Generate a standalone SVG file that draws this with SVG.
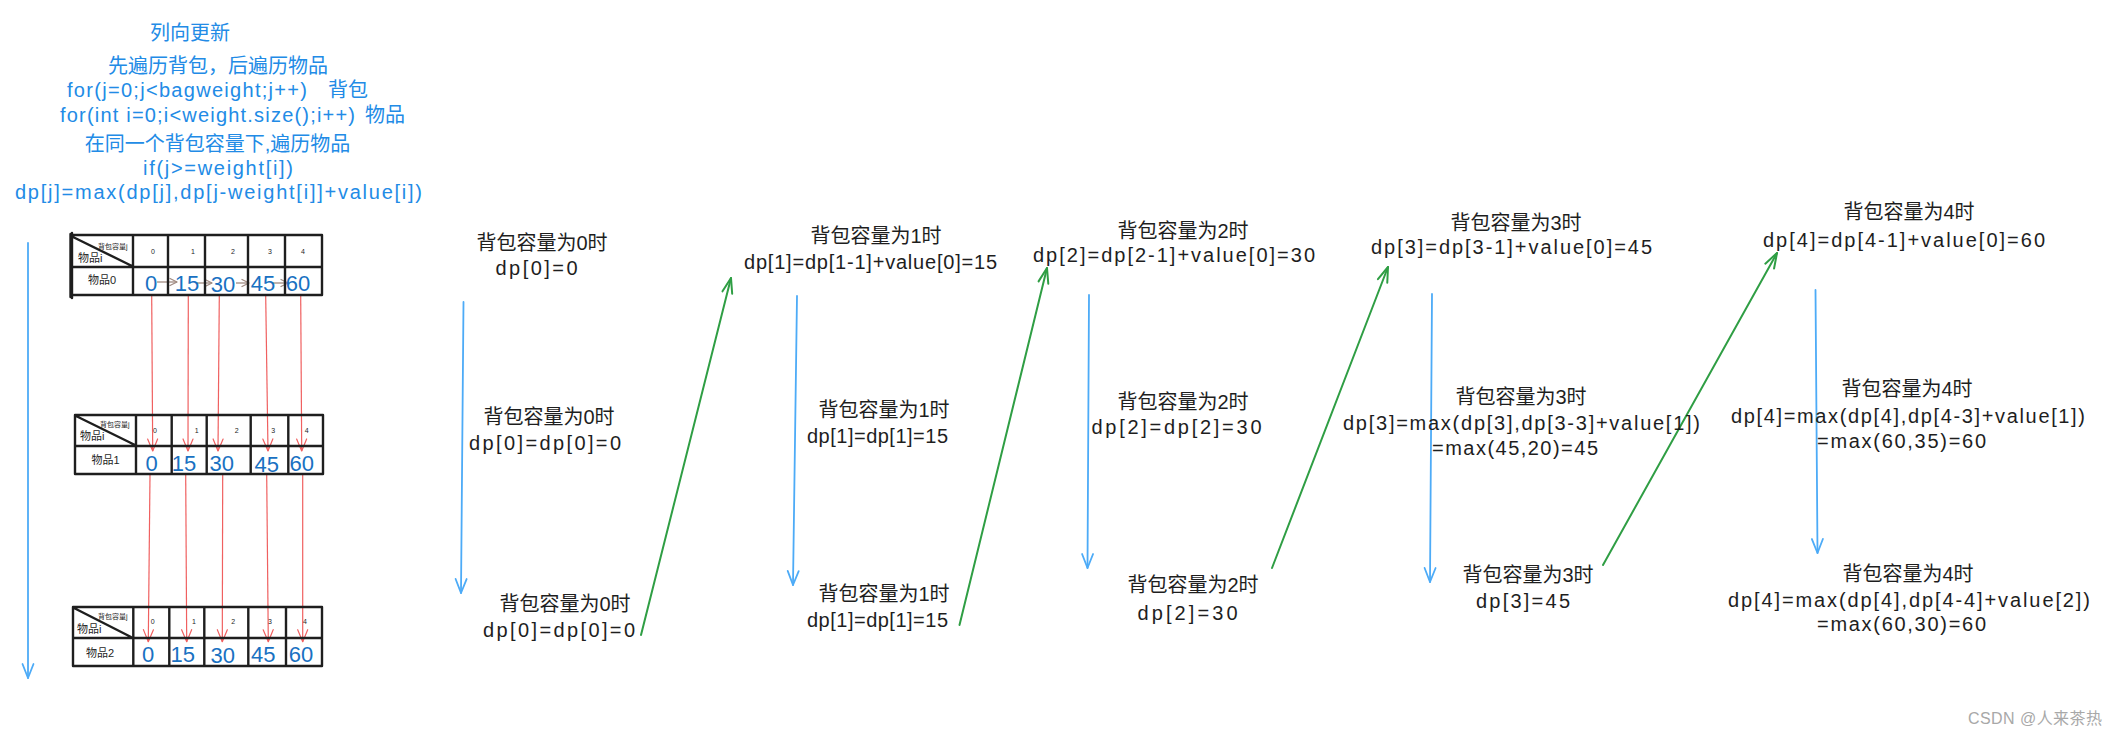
<svg xmlns="http://www.w3.org/2000/svg" width="2121" height="730" viewBox="0 0 2121 730">
<style>
.t{font-family:"Liberation Sans","Noto Sans CJK SC",sans-serif;font-size:20px;fill:#1e1e1e}
.m{text-anchor:middle}
.b{fill:#228be6}
.v{fill:#1971c2;font-size:22px;text-anchor:middle}
.s7{font-size:7px}
.s11{font-size:11px}
.tb{fill:none;stroke:#1e1e1e;stroke-width:2.4;stroke-linecap:round;stroke-linejoin:round}
.blue{fill:none;stroke:#4dabf7;stroke-width:1.8;stroke-linecap:round}
.green{fill:none;stroke:#2f9e44;stroke-width:2;stroke-linecap:round}
.red{fill:none;stroke:#f06060;stroke-width:1.2}
.brown{fill:none;stroke:#a08a80;stroke-width:1.3}
</style>
<defs>
<marker id="mb" markerUnits="userSpaceOnUse" markerWidth="20" markerHeight="16" viewBox="-16 -8 20 16" refX="0" refY="0" orient="auto" overflow="visible">
<path d="M-14,-5.5 L0,0 L-14,5.5" fill="none" stroke="#4dabf7" stroke-width="1.8" stroke-linecap="round" stroke-linejoin="round"/>
</marker>
<marker id="mg" markerUnits="userSpaceOnUse" markerWidth="20" markerHeight="16" viewBox="-16 -8 20 16" refX="0" refY="0" orient="auto" overflow="visible">
<path d="M-15,-5 L0,0 L-15,5" fill="none" stroke="#2f9e44" stroke-width="2" stroke-linecap="round" stroke-linejoin="round"/>
</marker>
<marker id="mr" markerUnits="userSpaceOnUse" markerWidth="20" markerHeight="16" viewBox="-16 -8 20 16" refX="0" refY="0" orient="auto" overflow="visible">
<path d="M-12,-5 L0,0 L-12,5" fill="none" stroke="#f06060" stroke-width="1.2" stroke-linecap="round" stroke-linejoin="round"/>
</marker>
<marker id="mn" markerUnits="userSpaceOnUse" markerWidth="12" markerHeight="10" viewBox="-8 -5 12 10" refX="0" refY="0" orient="auto" overflow="visible">
<path d="M-7,-3.5 L0,0 L-7,3.5" fill="none" stroke="#a08a80" stroke-width="1.3" stroke-linecap="round" stroke-linejoin="round"/>
</marker>
</defs>
<rect width="2121" height="730" fill="#ffffff"/>

<g id="connectors">
<path class="blue" d="M28,243 L28,678" marker-end="url(#mb)"/>
<path class="blue" d="M463.5,302 L461,593" marker-end="url(#mb)"/>
<path class="blue" d="M797,296 L793,585" marker-end="url(#mb)"/>
<path class="blue" d="M1089,295 L1087.5,568" marker-end="url(#mb)"/>
<path class="blue" d="M1432,294 L1430,582" marker-end="url(#mb)"/>
<path class="blue" d="M1815.5,290 L1817.5,553" marker-end="url(#mb)"/>
<path class="green" d="M641,635 L731,278" marker-end="url(#mg)"/>
<path class="green" d="M959.5,625 L1047,268" marker-end="url(#mg)"/>
<path class="green" d="M1272,568 L1388,267" marker-end="url(#mg)"/>
<path class="green" d="M1603,565 L1777,253" marker-end="url(#mg)"/>
<path class="red" d="M151.7,296 L152.7,451" marker-end="url(#mr)"/>
<path class="red" d="M188.3,296 L188,451" marker-end="url(#mr)"/>
<path class="red" d="M219.3,296 L218,451" marker-end="url(#mr)"/>
<path class="red" d="M265.7,296 L268,451" marker-end="url(#mr)"/>
<path class="red" d="M300.7,296 L301.7,451" marker-end="url(#mr)"/>
<path class="red" d="M150,475 L148.3,641.7" marker-end="url(#mr)"/>
<path class="red" d="M185.7,475 L186.7,641.7" marker-end="url(#mr)"/>
<path class="red" d="M222.7,475 L222.3,641.7" marker-end="url(#mr)"/>
<path class="red" d="M266.7,475 L268.3,641.7" marker-end="url(#mr)"/>
<path class="red" d="M302.7,475 L302.7,641.7" marker-end="url(#mr)"/>
<path class="brown" d="M157,282 L177,282" marker-end="url(#mn)"/>
<path class="brown" d="M197,283 L212,283" marker-end="url(#mn)"/>
<path class="brown" d="M236,283 L249,283" marker-end="url(#mn)"/>
<path class="brown" d="M272,283 L288,283" marker-end="url(#mn)"/>
</g>

<g id="intro-text" class="t b">
<text x="190" y="40" class="m">列向更新</text>
<text x="218" y="73" class="m">先遍历背包，后遍历物品</text>
<text x="67" y="97" textLength="240">for(j=0;j&lt;bagweight;j++)</text>
<text x="328" y="97">背包</text>
<text x="60" y="122" textLength="295">for(int  i=0;i&lt;weight.size();i++)</text>
<text x="365" y="122">物品</text>
<text x="217.5" y="151" class="m">在同一个背包容量下,遍历物品</text>
<text x="143" y="175" textLength="150">if(j&gt;=weight[i])</text>
<text x="15" y="199" textLength="407">dp[j]=max(dp[j],dp[j-weight[i]]+value[i])</text>
</g>

<g id="table-0">
<path class="tb" d="M72,235 L322,235 M72,267 L322,267 M72,295 L322,295 M72,233 L72,298 M322,235 L322,295 M133,235 L133,295 M168,235 L168,295 M205,235 L205,295 M248,235 L248,295 M285,235 L285,295 M73,237 L132,266"/>
<path class="tb" d="M70.5,234 L70.5,297" stroke-width="1.5"/>
<g class="t">
<text x="98" y="249" class="s7">背包容量j</text>
<text x="78" y="262" class="s11">物品i</text>
<text x="153" y="254" class="s7 m">0</text>
<text x="193" y="254" class="s7 m">1</text>
<text x="233" y="254" class="s7 m">2</text>
<text x="270" y="254" class="s7 m">3</text>
<text x="303" y="254" class="s7 m">4</text>
<text x="102" y="284" class="s11 m">物品0</text>
</g>
<g class="t">
<text x="151" y="291" class="v">0</text>
<text x="187" y="291" class="v">15</text>
<text x="223" y="292" class="v">30</text>
<text x="263" y="291" class="v">45</text>
<text x="298" y="291" class="v">60</text>
</g>
</g>

<g id="table-1">
<path class="tb" d="M75,415 L323,415 M75,446 L323,446 M75,474 L323,474 M75,415 L75,474 M323,415 L323,474 M136,415 L136,474 M171.7,415 L171.7,474 M206.7,415 L206.7,474 M250.7,415 L250.7,474 M288.3,415 L288.3,474 M76,416 L135,445"/>
<g class="t">
<text x="100" y="427" class="s7">背包容量j</text>
<text x="80" y="440" class="s11">物品i</text>
<text x="155" y="433" class="s7 m">0</text>
<text x="196.7" y="433" class="s7 m">1</text>
<text x="236.7" y="433" class="s7 m">2</text>
<text x="273.3" y="433" class="s7 m">3</text>
<text x="306.7" y="433" class="s7 m">4</text>
<text x="105.5" y="464" class="s11 m">物品1</text>
</g>
<g class="t">
<text x="151.7" y="471" class="v">0</text>
<text x="184" y="471" class="v">15</text>
<text x="221.7" y="471" class="v">30</text>
<text x="266.7" y="472" class="v">45</text>
<text x="301.7" y="471" class="v">60</text>
</g>
</g>

<g id="table-2">
<path class="tb" d="M73,607 L322,607 M73,638 L322,638 M73,666 L322,666 M73,607 L73,666 M322,607 L322,666 M133.3,607 L133.3,666 M169.3,607 L169.3,666 M204.3,607 L204.3,666 M248.3,607 L248.3,666 M286,607 L286,666 M74,608 L131,637"/>
<g class="t">
<text x="98" y="619" class="s7">背包容量j</text>
<text x="77" y="633" class="s11">物品i</text>
<text x="152.7" y="624" class="s7 m">0</text>
<text x="194" y="624" class="s7 m">1</text>
<text x="233.3" y="624" class="s7 m">2</text>
<text x="270" y="624" class="s7 m">3</text>
<text x="305" y="624" class="s7 m">4</text>
<text x="100" y="657" class="s11 m">物品2</text>
</g>
<g class="t">
<text x="148" y="662" class="v">0</text>
<text x="182.7" y="662" class="v">15</text>
<text x="222.7" y="663" class="v">30</text>
<text x="263.3" y="662" class="v">45</text>
<text x="301" y="662" class="v">60</text>
</g>
</g>

<g id="col-0" class="t">
<text x="542" y="250" class="m">背包容量为0时</text>
<text x="495.5" y="275" textLength="82">dp[0]=0</text>
<text x="549" y="424" class="m">背包容量为0时</text>
<text x="469" y="450" textLength="152">dp[0]=dp[0]=0</text>
<text x="565" y="611" class="m">背包容量为0时</text>
<text x="483" y="637" textLength="152">dp[0]=dp[0]=0</text>
</g>

<g id="col-1" class="t">
<text x="876" y="243" class="m">背包容量为1时</text>
<text x="744" y="269" textLength="253">dp[1]=dp[1-1]+value[0]=15</text>
<text x="884" y="417" class="m">背包容量为1时</text>
<text x="807" y="443" textLength="141">dp[1]=dp[1]=15</text>
<text x="884" y="601" class="m">背包容量为1时</text>
<text x="807" y="627" textLength="141">dp[1]=dp[1]=15</text>
</g>

<g id="col-2" class="t">
<text x="1183" y="238" class="m">背包容量为2时</text>
<text x="1033" y="262" textLength="282">dp[2]=dp[2-1]+value[0]=30</text>
<text x="1183" y="409" class="m">背包容量为2时</text>
<text x="1091.5" y="434" textLength="170">dp[2]=dp[2]=30</text>
<text x="1193" y="592" class="m">背包容量为2时</text>
<text x="1137.5" y="620" textLength="100">dp[2]=30</text>
</g>

<g id="col-3" class="t">
<text x="1516" y="230" class="m">背包容量为3时</text>
<text x="1371" y="254" textLength="281">dp[3]=dp[3-1]+value[0]=45</text>
<text x="1521" y="404" class="m">背包容量为3时</text>
<text x="1343" y="430" textLength="357">dp[3]=max(dp[3],dp[3-3]+value[1])</text>
<text x="1432" y="455" textLength="166">=max(45,20)=45</text>
<text x="1528" y="582" class="m">背包容量为3时</text>
<text x="1476" y="608" textLength="94">dp[3]=45</text>
</g>

<g id="col-4" class="t">
<text x="1909" y="219" class="m">背包容量为4时</text>
<text x="1763" y="247" textLength="282">dp[4]=dp[4-1]+value[0]=60</text>
<text x="1907" y="396" class="m">背包容量为4时</text>
<text x="1731" y="423" textLength="354">dp[4]=max(dp[4],dp[4-3]+value[1])</text>
<text x="1817" y="448" textLength="169">=max(60,35)=60</text>
<text x="1908" y="581" class="m">背包容量为4时</text>
<text x="1728" y="607" textLength="362">dp[4]=max(dp[4],dp[4-4]+value[2])</text>
<text x="1817" y="631" textLength="169">=max(60,30)=60</text>
</g>

<g id="watermark">
<text x="1968" y="724" textLength="134" style="font-family:'Liberation Sans','Noto Sans CJK SC',sans-serif;font-size:16px;fill:#a8a8a8">CSDN @人来茶热</text>
</g>
</svg>
